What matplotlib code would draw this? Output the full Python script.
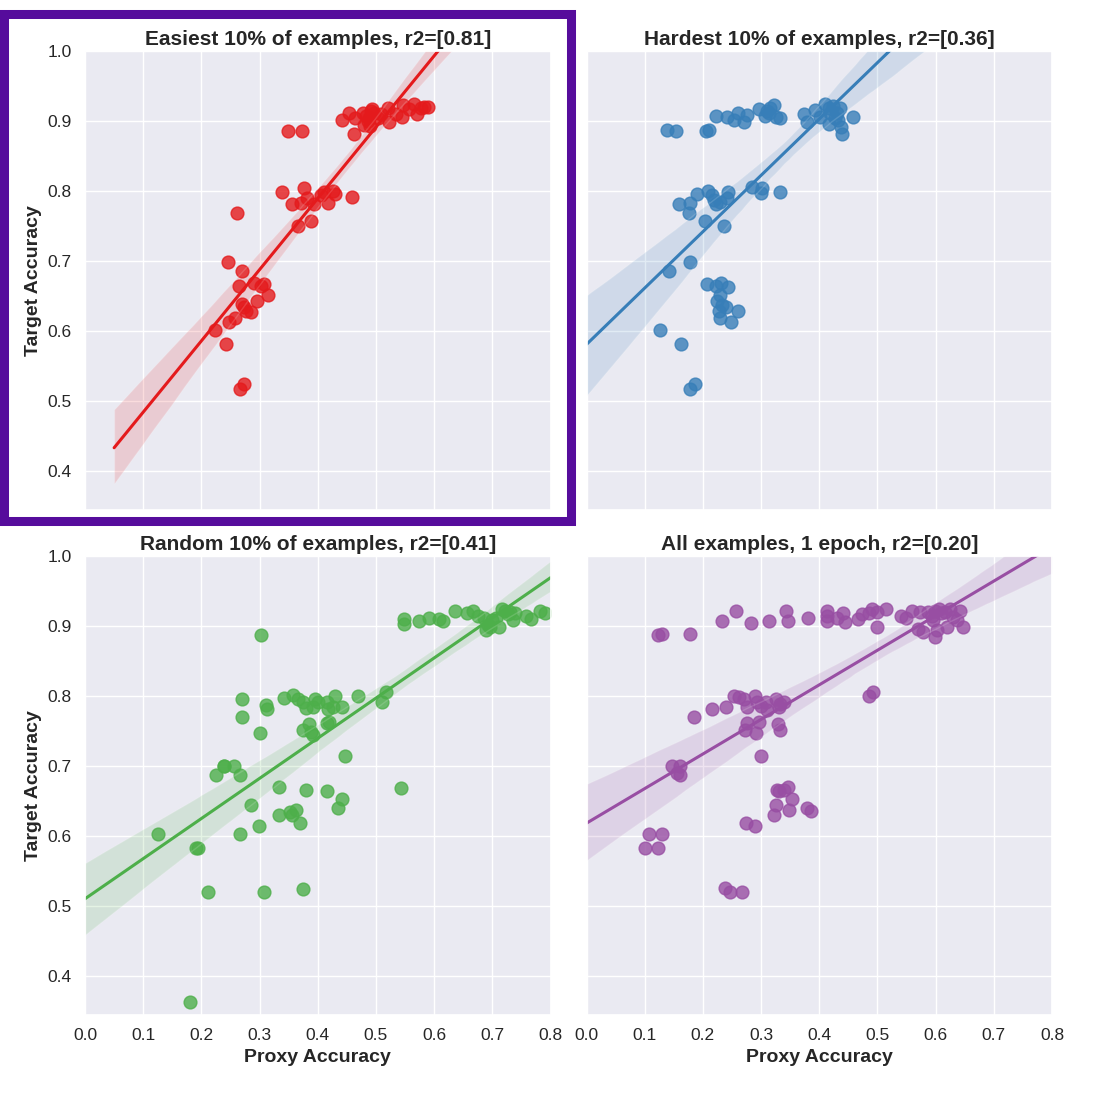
import matplotlib
matplotlib.use("Agg")
import matplotlib.pyplot as plt
import matplotlib.patches as patches
import numpy as np
import seaborn as sns

# proxy accuracy (x) / target accuracy (y)
easiest_proxy = [0.442, 0.453, 0.464, 0.463, 0.477, 0.483, 0.486, 0.480, 0.489, 0.494,
                 0.497, 0.503, 0.509, 0.520, 0.523, 0.534, 0.544, 0.547, 0.557, 0.566,
                 0.571, 0.577, 0.583, 0.590, 0.491, 0.488, 0.349, 0.373,
                 0.339, 0.376, 0.356, 0.371, 0.382, 0.393, 0.389, 0.366, 0.405, 0.410,
                 0.417, 0.426, 0.429, 0.458, 0.261,
                 0.246, 0.270, 0.265, 0.291, 0.303, 0.307, 0.315, 0.296, 0.269, 0.274,
                 0.277, 0.286, 0.258, 0.247, 0.223, 0.243, 0.274, 0.267]
easiest_target = [0.902, 0.911, 0.904, 0.882, 0.912, 0.907, 0.900, 0.895, 0.893, 0.917,
                  0.912, 0.905, 0.910, 0.919, 0.898, 0.910, 0.906, 0.923, 0.917, 0.924,
                  0.910, 0.919, 0.920, 0.920, 0.914, 0.904, 0.886, 0.886,
                  0.799, 0.805, 0.781, 0.783, 0.790, 0.782, 0.757, 0.750, 0.795, 0.799,
                  0.783, 0.800, 0.796, 0.791, 0.769,
                  0.699, 0.686, 0.664, 0.669, 0.664, 0.667, 0.652, 0.643, 0.639, 0.634,
                  0.629, 0.628, 0.619, 0.614, 0.602, 0.582, 0.525, 0.518]

hardest_proxy = [0.139, 0.153, 0.205, 0.210, 0.222, 0.242, 0.254, 0.260, 0.270, 0.276,
                 0.296, 0.306, 0.310, 0.316, 0.322, 0.326, 0.333, 0.313, 0.374, 0.379,
                 0.393, 0.402, 0.410, 0.416, 0.416, 0.424, 0.430, 0.436, 0.433, 0.437,
                 0.439, 0.458, 0.419, 0.427,
                 0.159, 0.178, 0.176, 0.190, 0.209, 0.215, 0.219, 0.222, 0.229, 0.243,
                 0.242, 0.203, 0.237, 0.285, 0.302, 0.300, 0.332,
                 0.177, 0.142, 0.207, 0.222, 0.231, 0.243, 0.229, 0.224, 0.233, 0.240,
                 0.227, 0.261, 0.229, 0.249, 0.127, 0.163, 0.186, 0.177]
hardest_target = [0.887, 0.886, 0.886, 0.887, 0.907, 0.906, 0.902, 0.912, 0.898, 0.909,
                  0.917, 0.907, 0.914, 0.919, 0.923, 0.906, 0.904, 0.911, 0.910, 0.898,
                  0.916, 0.906, 0.924, 0.919, 0.896, 0.921, 0.912, 0.919, 0.902, 0.891,
                  0.882, 0.906, 0.912, 0.905,
                  0.781, 0.783, 0.769, 0.796, 0.800, 0.794, 0.788, 0.782, 0.785, 0.799,
                  0.790, 0.757, 0.750, 0.806, 0.805, 0.798, 0.799,
                  0.699, 0.686, 0.667, 0.664, 0.669, 0.663, 0.652, 0.643, 0.638, 0.635,
                  0.629, 0.629, 0.619, 0.614, 0.602, 0.582, 0.525, 0.518]

random_proxy = [0.302, 0.549, 0.549, 0.574, 0.592, 0.609, 0.616, 0.636, 0.656, 0.667,
                0.676, 0.685, 0.689, 0.693, 0.699, 0.707, 0.712, 0.716, 0.721, 0.730,
                0.736, 0.739, 0.758, 0.767, 0.782, 0.791, 0.696, 0.727,
                0.269, 0.269, 0.300, 0.311, 0.312, 0.342, 0.358, 0.366, 0.375, 0.379,
                0.391, 0.396, 0.400, 0.416, 0.417, 0.426, 0.429, 0.442, 0.469, 0.510,
                0.518, 0.375, 0.385, 0.389, 0.391, 0.416, 0.420, 0.447,
                0.225, 0.238, 0.239, 0.256, 0.267, 0.334, 0.380, 0.416, 0.441, 0.435,
                0.286, 0.334, 0.352, 0.356, 0.363, 0.369, 0.299, 0.266, 0.125, 0.191,
                0.194, 0.543, 0.212, 0.307, 0.375, 0.180]
random_target = [0.887, 0.910, 0.903, 0.907, 0.912, 0.910, 0.907, 0.922, 0.919, 0.921,
                 0.915, 0.912, 0.894, 0.902, 0.908, 0.912, 0.898, 0.925, 0.922, 0.920,
                 0.908, 0.918, 0.914, 0.910, 0.922, 0.918, 0.898, 0.917,
                 0.796, 0.770, 0.747, 0.788, 0.781, 0.798, 0.801, 0.796, 0.791, 0.783,
                 0.784, 0.796, 0.791, 0.792, 0.782, 0.784, 0.800, 0.785, 0.800, 0.791,
                 0.806, 0.751, 0.760, 0.749, 0.744, 0.761, 0.763, 0.714,
                 0.687, 0.700, 0.700, 0.700, 0.687, 0.670, 0.666, 0.664, 0.653, 0.640,
                 0.644, 0.630, 0.634, 0.630, 0.638, 0.619, 0.615, 0.603, 0.603, 0.584,
                 0.584, 0.669, 0.520, 0.520, 0.525, 0.364]

all_proxy = [0.123, 0.129, 0.177, 0.233, 0.256, 0.282, 0.314, 0.343, 0.346, 0.381,
             0.413, 0.413, 0.413, 0.431, 0.441, 0.445, 0.467, 0.473, 0.486, 0.490,
             0.499, 0.499, 0.514, 0.540, 0.549, 0.560, 0.569, 0.573, 0.578, 0.593,
             0.596, 0.599, 0.605, 0.610, 0.598, 0.603, 0.619, 0.625, 0.629, 0.636,
             0.641, 0.647, 0.587, 0.616,
             0.486, 0.493, 0.254, 0.262, 0.270, 0.275, 0.290, 0.293, 0.299, 0.309,
             0.325, 0.330, 0.333, 0.340, 0.310, 0.239, 0.216, 0.185, 0.276, 0.296,
             0.272, 0.291, 0.329, 0.333, 0.300,
             0.146, 0.161, 0.156, 0.161, 0.327, 0.331, 0.339, 0.346, 0.353, 0.326,
             0.348, 0.379, 0.386, 0.322, 0.274, 0.290, 0.107, 0.130, 0.100, 0.122,
             0.238, 0.246, 0.267]
all_target = [0.887, 0.888, 0.888, 0.907, 0.922, 0.904, 0.907, 0.922, 0.907, 0.911,
              0.922, 0.907, 0.914, 0.912, 0.919, 0.906, 0.910, 0.917, 0.918, 0.925,
              0.920, 0.898, 0.924, 0.915, 0.911, 0.922, 0.896, 0.920, 0.891, 0.915,
              0.908, 0.922, 0.925, 0.918, 0.884, 0.895, 0.899, 0.925, 0.913, 0.908,
              0.922, 0.898, 0.920, 0.920,
              0.800, 0.806, 0.800, 0.799, 0.796, 0.784, 0.800, 0.791, 0.786, 0.791,
              0.796, 0.784, 0.789, 0.791, 0.780, 0.784, 0.781, 0.770, 0.761, 0.763,
              0.751, 0.748, 0.760, 0.751, 0.714,
              0.700, 0.700, 0.691, 0.687, 0.666, 0.664, 0.666, 0.670, 0.653, 0.644,
              0.638, 0.640, 0.636, 0.630, 0.619, 0.615, 0.603, 0.603, 0.584, 0.584,
              0.526, 0.521, 0.521]

titles = ["Easiest 10% of examples, r2=[0.81]", "Hardest 10% of examples, r2=[0.36]",
          "Random 10% of examples, r2=[0.41]", "All examples, 1 epoch, r2=[0.20]"]
colors = ["#e41a1c", "#377eb8", "#4daf4a", "#984ea3"]
line_start = [0.05, 0.0, 0.0, 0.0]

sns.set_theme(style="darkgrid")
plt.rcParams["font.family"] = ["Liberation Sans", "DejaVu Sans"]

fig, axes = plt.subplots(2, 2, figsize=(11, 11.01), dpi=100)
fig.subplots_adjust(left=0.0773, right=0.9564, top=0.9537, bottom=0.0781,
                    wspace=0.0774, hspace=0.1)

data = [(easiest_proxy, easiest_target), (hardest_proxy, hardest_target),
        (random_proxy, random_target), (all_proxy, all_target)]

for i, ax in enumerate(axes.flat):
    x, y = data[i]
    # regplot with truncate=False draws the fit across the current xlim
    ax.set_xlim(line_start[i], 0.8)
    ax.set_ylim(0.345, 1.0)
    sns.regplot(x=np.array(x), y=np.array(y), ax=ax, color=colors[i], truncate=False,
                seed=0, scatter_kws={"s": 85}, line_kws={"lw": 2.2})
    ax.set_xlim(0, 0.8)
    ax.set_ylim(0.345, 1.0)
    ax.set_xticks(np.arange(0, 0.81, 0.1))
    ax.set_yticks(np.arange(0.4, 1.01, 0.1))
    ax.set_title(titles[i], fontsize=15, fontweight="bold", pad=4)
    ax.tick_params(labelsize=12.5)
    if i < 2:
        ax.tick_params(labelbottom=False)
    else:
        ax.set_xlabel("Proxy Accuracy", fontsize=14, fontweight="bold")
    if i % 2 == 1:
        ax.tick_params(labelleft=False)
    else:
        ax.set_ylabel("Target Accuracy", fontsize=14, fontweight="bold")

frame = patches.Rectangle((0.0036, 0.5268), 0.5155, 0.4605, transform=fig.transFigure,
                          fill=False, edgecolor="#560c9c", lw=6.5)
fig.patches.append(frame)

fig.savefig("out.png", dpi=100)
